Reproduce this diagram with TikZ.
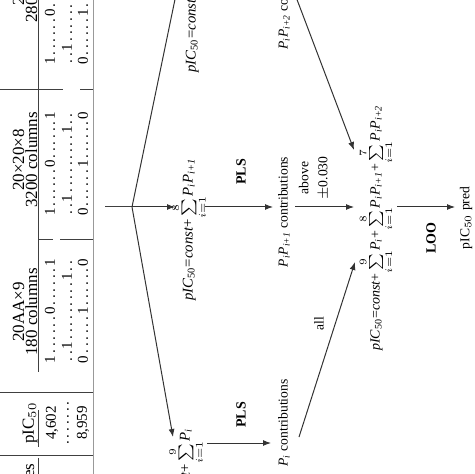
\documentclass[tikz,border=0pt]{standalone}
\usepackage{amsmath}
\usepackage{fontspec}
\setmainfont{Liberation Serif}
\usetikzlibrary{arrows.meta}

\newcommand{\dotrow}[1]{\makebox[52pt]{#1}}
\newcommand{\dotend}{\makebox[7pt]{\dotfill}}
\newcommand{\pic}{\textit{pIC}\textsubscript{50}}
\newcommand{\psum}[1]{${\textstyle\sum\limits_{i=1}^{#1}}$}
\newcommand{\pv}[1]{\textit{P}\textsubscript{\textit{#1}}}

\begin{document}
\begin{tikzpicture}[x=0.5pt, y=-0.5pt,
  every node/.style = {rotate=90, inner sep=0pt, font=\fontsize{6.8}{8}\selectfont},
  flow/.style = {-{Latex[length=4pt,width=3pt]}, line width=0.5pt, draw=black!80},
  rule/.style = {line width=0.5pt, draw=black!75},
  hdr/.style = {align=center, font=\fontsize{8.5}{6.5}\selectfont},
  cell/.style = {font=\fontsize{7.5}{8}\selectfont},
  eqn/.style = {font=\fontsize{7.4}{8}\selectfont},
  lbl/.style = {font=\fontsize{7}{8}\selectfont\bfseries}]
\useasboundingbox (0,0) rectangle (474,474);
\clip (0,0) rectangle (474,474);

% table
\draw[rule] (38,0) -- (38,372) (38,410) -- (38,447) (38,458) -- (38,474);
\draw[rule] (0,90) -- (63,90) (80,90) -- (93,90);
\draw[rule] (38,240) -- (53,240) (60,240) -- (93,240);
\draw[rule] (0,392) -- (93,392) (0,455) -- (93,455);
\draw[line width=0.5pt, draw=black!40] (93,0) -- (93,474);

\node[hdr] (h7) at (25,-25) {20×20×7\\2800 columns};
\node[hdr] (h8) at (25,160) {20×20×8\\3200 columns};
\node[hdr] (h9) at (25,312) {20AA×9\\180 columns};
\node[hdr] (hp) at (30,423) {pIC$_{50}$};
\node[hdr, anchor=east] (hs) at (30,463) {Peptides};

\node[cell] (r71) at (50,13) {\dotrow{1\dotfill0\dotfill1}};
\node[cell] (r72) at (67,13) {\dotrow{\dotend1\dotfill1\dotend}};
\node[cell] (r73) at (83,13) {\dotrow{0\dotfill1\dotfill0}};
\node[cell] (r81) at (50,164) {\dotrow{1\dotfill0\dotfill1}};
\node[cell] (r82) at (67,164) {\dotrow{\dotend1\dotfill1\dotend}};
\node[cell] (r83) at (83,164) {\dotrow{0\dotfill1\dotfill0}};
\node[cell] (r91) at (50,311) {\dotrow{1\dotfill0\dotfill1}};
\node[cell] (r92) at (67,311) {\dotrow{\dotend1\dotfill1\dotend}};
\node[cell] (r93) at (83,311) {\dotrow{0\dotfill1\dotfill0}};
\node[cell] (p1) at (52,423) {4,602};
\node[cell] (p2) at (68,423) {\makebox[26pt]{\dotfill}};
\node[cell] (p3) at (83,423) {8,959};

% branching
\coordinate (S) at (105,207);
\coordinate (B) at (132,207);
\coordinate (t7) at (179,-20);
\coordinate (t8) at (175,207);
\coordinate (t9) at (173,437);
\draw[rule] (S) -- (B);
\draw[flow] (B) -- (t7);
\draw[flow] (B) -- (t8);
\draw[flow] (B) -- (t9);

\node[eqn, anchor=west] (f7) at (192,73) {\pic=\textit{const}+\psum{7}\pv{i}\pv{i+2}};
\node[eqn, anchor=east] (f8) at (189,158) {\pic=\textit{const}+\psum{8}\pv{i}\pv{i+1}};
\node[eqn, anchor=east] (f9) at (186,428) {\pic=\textit{const}+\psum{9}\pv{i}};

% PLS
\coordinate (o8) at (205,207);
\coordinate (o9) at (207,443);
\coordinate (i8) at (273,207);
\coordinate (i9) at (271,443);
\draw[flow] (o8) -- (i8);
\draw[flow] (o9) -- (i9);
\node[lbl] (pls8) at (241,172) {PLS};
\node[lbl] (pls9) at (241,415) {PLS};

\node[anchor=west] (c7) at (284,50) {\pv{i}\pv{i+2} contributions};
\node (c8) at (284,212) {\pv{i}\pv{i+1} contributions};
\node (c9) at (284,423) {\pv{i} contributions};

% selection
\coordinate (s7) at (282,-40);
\coordinate (s8) at (295,207);
\coordinate (s9) at (299,437);
\coordinate (e7) at (354,150);
\coordinate (e8) at (354,207);
\coordinate (e9) at (355,262);
\draw[flow] (s7) -- (e7);
\draw[flow] (s8) -- (e8);
\draw[flow] (s9) -- (e9);
\node[align=center] (above) at (314,178) {above\\[1.5pt]$\pm$0.030};
\node (all) at (319,324) {all};

\node[eqn, font=\fontsize{7}{8}\selectfont] (cf) at (376,228) {\pic=\textit{const}+\psum{9}\pv{i}+\psum{8}\pv{i}\pv{i+1}+\psum{7}\pv{i}\pv{i+2}};

% LOO
\coordinate (l1) at (397,207);
\coordinate (l2) at (455,207);
\draw[flow] (l1) -- (l2);
\node[lbl] (loo) at (431,238) {LOO};
\node (pred) at (466,218) {pIC$_{50}$ pred};
\end{tikzpicture}
\end{document}
